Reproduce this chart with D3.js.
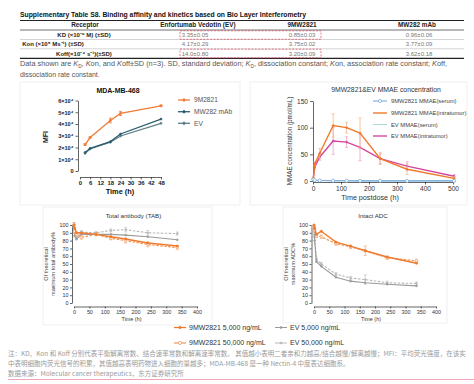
<!DOCTYPE html>
<html>
<head>
<meta charset="utf-8">
<script src="https://cdn.jsdelivr.net/npm/d3@7"></script>
<style>
  body { margin: 0; background: #fff; }
  svg { display: block; font-family: "Liberation Sans", Arial, sans-serif; }
</style>
</head>
<body>
<svg id="chart" width="474" height="384"></svg>
<script>
// ---------------------------------------------------------------------------
// Data
// ---------------------------------------------------------------------------
const tableTitle = "Supplementary Table S8. Binding affinity and kinetics based on Bio Layer Interferometry";
const tableHeader = ["Receptor", "Enfortumab Vedotin (EV)", "9MW2821", "MW282 mAb"];
const rowLabels = ["KD (×10⁻⁹ M) (±SD)", "Kon (×10⁵ Ms⁻¹) (±SD)", "Koff(×10⁻⁴ s⁻¹)(±SD)"];
const colEV = ["3.35±0.05", "4.17±0.29", "14.0±0.80"];
const col9MW = ["0.85±0.03", "3.75±0.02", "3.20±0.09"];
const colMW282 = ["0.96±0.06", "3.77±0.09", "3.62±0.18"];

// MDA-MB-468 binding (MFI)
const mfiTime = [3, 6, 18, 24, 48];
const mfiTicksX = [0, 6, 12, 18, 24, 30, 36, 42, 48];
const mfi9M2821 = [22500, 28500, 43000, 49000, 55500];
const mfi9M2821Err = [700, 600, 2000, 1800, 600];
const mfiMW282 = [15800, 19300, 25000, 31500, 44200];
const mfiEV = [15000, 18800, 24500, 29800, 40600];

// MMAE concentration
const mmaeTime = [1, 6, 24, 72, 120, 168, 240, 336, 504];
const mmae9MWSerum = [3, 1.5, 1, 0.5, 0.4, 0.3, 0.3, 0.2, 0.2];
const mmae9MWTumor = [5, 32, 52, 104, 100, 90, 42, 22, 5];
const mmae9MWTumorErr = [1, 4, 9, 22, 10, 28, 11, 10, 3];
const mmaeEVSerum = [2.5, 1.2, 0.8, 0.4, 0.3, 0.3, 0.2, 0.2, 0.2];
const mmaeEVTumor = [4, 26, 45, 75, 73, 63, 42, 28, 9];
const mmaeEVTumorErr = [1, 4, 6, 25, 10, 25, 9, 8, 3];

// Plasma stability (TAB / intact ADC), % of theoretical maximum
const pkTime = [0, 2, 8, 24, 72, 120, 168, 240, 336];
const tab9MW5k = [100, 96, 90, 90, 88, 85, 82, 77, 73];
const tab9MW50k = [100, 92, 88, 84, 88, 83, 80, 75, 71];
const tabEV5k = [100, 86, 82, 88, 88, 88, 87, 85, 81];
const tabEV50k = [100, 90, 84, 91, 90, 93, 94, 90, 89];
const tabErr = [3, 3, 3, 2, 2, 2, 3, 3, 2];
const adc9MW5k = [100, 96, 88, 92, 78, 73, 67, 59, 51];
const adc9MW50k = [97, 93, 86, 85, 76, 72, 67, 58, 54];
const adcEV5k = [97, 80, 53, 47, 33, 28, 26, 24, 22];
const adcEV50k = [98, 86, 56, 50, 37, 32, 30, 26, 25];
const adcErr = [2, 2, 2, 2, 2, 2, 6, 2, 2];

const noteLines = [
  "注：KD、Kon 和 Koff 分别代表平衡解离常数、结合速率常数和解离速率常数。 其值越小表明二者亲和力越高/结合越慢/解离越慢；MFI：平均荧光强度，在该实",
  "中表明细胞内荧光信号的积累，其值越高表明药物进入细胞的量越多；MDA-MB-468 是一种 Nectin-4 中度表达细胞系。",
  "数据来源：Molecular cancer therapeutics，东方证券研究所"
];

// ---------------------------------------------------------------------------
// Helpers
// ---------------------------------------------------------------------------
const svg = d3.select("#chart");
svg.append("rect").attr("width", 474).attr("height", 384).attr("fill", "#fff");

function styleAxis(g, size, weight, color) {
  g.selectAll("path, line").attr("stroke", "#222").attr("stroke-width", 0.7);
  g.selectAll("text")
    .attr("font-size", size)
    .attr("font-weight", weight || "normal")
    .attr("fill", color || "#222")
    .attr("font-family", "Liberation Sans, Arial, sans-serif");
}

function drawSeries(g, x, y, xs, ys, o) {
  const line = d3.line().x((d, i) => x(xs[i])).y(d => y(d));
  if (o.err) {
    const eb = g.append("g").attr("stroke", o.errColor || o.color).attr("stroke-width", 0.8);
    ys.forEach((v, i) => {
      const e = o.err[i];
      if (!e) return;
      const cx = x(xs[i]);
      eb.append("line").attr("x1", cx).attr("x2", cx).attr("y1", y(v - e)).attr("y2", y(v + e));
      eb.append("line").attr("x1", cx - 1.5).attr("x2", cx + 1.5).attr("y1", y(v + e)).attr("y2", y(v + e));
      eb.append("line").attr("x1", cx - 1.5).attr("x2", cx + 1.5).attr("y1", y(v - e)).attr("y2", y(v - e));
    });
  }
  g.append("path").datum(ys)
    .attr("d", line)
    .attr("fill", "none")
    .attr("stroke", o.color)
    .attr("stroke-width", o.width || 1)
    .attr("stroke-dasharray", o.dash || null);
  if (o.marker) {
    g.selectAll(null).data(ys).join("circle")
      .attr("cx", (d, i) => x(xs[i]))
      .attr("cy", d => y(d))
      .attr("r", o.r || 1.2)
      .attr("fill", o.marker === "open" ? "#fff" : o.color)
      .attr("stroke", o.color)
      .attr("stroke-width", 0.7);
  }
}

function legendItem(g, x, y, label, o) {
  g.append("line").attr("x1", x).attr("x2", x + o.len).attr("y1", y).attr("y2", y)
    .attr("stroke", o.color).attr("stroke-width", o.width || 1);
  if (o.marker) {
    g.append("circle").attr("cx", x + o.len / 2).attr("cy", y).attr("r", o.r || 1.3)
      .attr("fill", o.marker === "open" ? "#fff" : o.color)
      .attr("stroke", o.color).attr("stroke-width", 0.7);
  }
  g.append("text").attr("x", x + o.len + o.gap).attr("y", y + o.size * 0.35)
    .attr("font-size", o.size).attr("fill", o.textColor || "#333").text(label);
}

// ---------------------------------------------------------------------------
// Table
// ---------------------------------------------------------------------------
const tbl = svg.append("g");
tbl.append("text").attr("x", 20).attr("y", 17)
  .attr("font-size", 7.4).attr("font-weight", "bold").attr("fill", "#111")
  .attr("textLength", 286).attr("lengthAdjust", "spacingAndGlyphs")
  .text(tableTitle);

tbl.append("line").attr("x1", 20).attr("x2", 464).attr("y1", 20.5).attr("y2", 20.5)
  .attr("stroke", "#222").attr("stroke-width", 1.2);
tbl.append("line").attr("x1", 20).attr("x2", 464).attr("y1", 30).attr("y2", 30)
  .attr("stroke", "#333").attr("stroke-width", 0.7);
[39.5, 48.8].forEach(yy => tbl.append("line").attr("x1", 20).attr("x2", 464)
  .attr("y1", yy).attr("y2", yy).attr("stroke", "#aaa").attr("stroke-width", 0.5));
tbl.append("line").attr("x1", 20).attr("x2", 464).attr("y1", 58.3).attr("y2", 58.3)
  .attr("stroke", "#222").attr("stroke-width", 1.2);

const colX = [85, 198, 302, 417];
tableHeader.forEach((h, i) => {
  tbl.append("text").attr("x", colX[i]).attr("y", 27.3).attr("text-anchor", "middle")
    .attr("font-size", 6.4).attr("font-weight", "bold").attr("fill", "#222").text(h);
});
const rowY = [37, 46.3, 55.5];
const rowLabelX = [84, 53, 84];
rowLabels.forEach((t, i) => {
  tbl.append("text").attr("x", rowLabelX[i]).attr("y", rowY[i]).attr("text-anchor", "middle")
    .attr("font-size", 6).attr("font-weight", "bold").attr("fill", "#222").text(t);
});
[colEV, col9MW, colMW282].forEach((col, c) => {
  col.forEach((v, i) => {
    tbl.append("text").attr("x", [195, 302, 419][c]).attr("y", rowY[i]).attr("text-anchor", "middle")
      .attr("font-size", 6).attr("fill", "#777").text(v);
  });
});
// red dashed highlight boxes
[[30.8, 39.3], [49.2, 57.8]].forEach(([y0, y1]) => {
  tbl.append("rect").attr("x", 180).attr("y", y0).attr("width", 141).attr("height", y1 - y0)
    .attr("fill", "none").attr("stroke", "#e0405a").attr("stroke-width", 0.7)
    .attr("stroke-dasharray", "2,1.4");
});

const note = tbl.append("text").attr("x", 20).attr("y", 66).attr("font-size", 6.9).attr("fill", "#555")
  .attr("textLength", 427).attr("lengthAdjust", "spacingAndGlyphs");
note.append("tspan").text("Data shown are ");
note.append("tspan").attr("font-style", "italic").text("K");
note.append("tspan").attr("font-size", 4.5).attr("dy", 1.5).text("D");
note.append("tspan").attr("dy", -1.5).text(", ");
note.append("tspan").attr("font-style", "italic").text("K");
note.append("tspan").text("on, and ");
note.append("tspan").attr("font-style", "italic").text("K");
note.append("tspan").text("off±SD (n=3). SD, standard deviation; ");
note.append("tspan").attr("font-style", "italic").text("K");
note.append("tspan").attr("font-size", 4.5).attr("dy", 1.5).text("D");
note.append("tspan").attr("dy", -1.5).text(", dissociation constant; ");
note.append("tspan").attr("font-style", "italic").text("K");
note.append("tspan").text("on, association rate constant; ");
note.append("tspan").attr("font-style", "italic").text("K");
note.append("tspan").text("off,");
tbl.append("text").attr("x", 20).attr("y", 76.5).attr("font-size", 6.9).attr("fill", "#555")
  .text("dissociation rate constant.");

// panel frames
const frames = [[20, 82, 220, 123], [250, 82, 217, 123], [43, 207, 169, 118], [283, 207, 164, 116]];
frames.forEach(([fx, fy, fw, fh]) => svg.append("rect").attr("x", fx).attr("y", fy)
  .attr("width", fw).attr("height", fh).attr("fill", "none").attr("stroke", "#ececec").attr("stroke-width", 0.8));

// ---------------------------------------------------------------------------
// Panel 1: MDA-MB-468 MFI
// ---------------------------------------------------------------------------
{
  const g = svg.append("g");
  const x = d3.scaleLinear().domain([0, 48]).range([80, 161]);
  const y = d3.scaleLinear().domain([0, 60000]).range([171, 100.5]);
  const sup = d => d === 0 ? "0" : `${d / 1e4}×10⁴`;
  g.append("g").attr("transform", "translate(78,0)")
    .call(d3.axisLeft(y).tickValues(d3.range(0, 60001, 10000)).tickFormat(sup).tickSize(2.5).tickSizeOuter(0).tickPadding(2))
    .call(a => styleAxis(a, 5.6, "bold"));
  g.append("g").attr("transform", "translate(0,177)")
    .call(d3.axisBottom(x).tickValues(mfiTicksX).tickSize(2.5).tickSizeOuter(0).tickPadding(1.5))
    .call(a => styleAxis(a, 6, "bold"));
  g.append("text").attr("x", 118).attr("y", 92.5).attr("text-anchor", "middle")
    .attr("font-size", 7).attr("font-weight", "bold").attr("fill", "#111").text("MDA-MB-468");
  g.append("text").attr("x", 120).attr("y", 194).attr("text-anchor", "middle")
    .attr("font-size", 7.4).attr("font-weight", "bold").attr("fill", "#111").text("Time (h)");
  g.append("text").attr("transform", "translate(48,137) rotate(-90)").attr("text-anchor", "middle")
    .attr("font-size", 7).attr("font-weight", "bold").attr("fill", "#111").text("MFI");

  drawSeries(g, x, y, mfiTime, mfiEV, { color: "#5f7f8a", width: 1.3, marker: "fill", r: 1 });
  drawSeries(g, x, y, mfiTime, mfiMW282, { color: "#2c5f6d", width: 1.3, marker: "fill", r: 1 });
  drawSeries(g, x, y, mfiTime, mfi9M2821, { color: "#f07c3a", width: 1.3, marker: "fill", r: 1.1, err: mfi9M2821Err });

  const lo = { len: 12, gap: 4, size: 6.6, marker: "fill", textColor: "#555", width: 1.3 };
  legendItem(g, 178, 100, "9M2821", { ...lo, color: "#f07c3a" });
  legendItem(g, 178, 111.7, "MW282 mAb", { ...lo, color: "#2c5f6d" });
  legendItem(g, 178, 123.3, "EV", { ...lo, color: "#5f7f8a" });
}

// ---------------------------------------------------------------------------
// Panel 2: MMAE concentration
// ---------------------------------------------------------------------------
{
  const g = svg.append("g");
  const x = d3.scaleLinear().domain([0, 500]).range([313, 453]);
  const y = d3.scaleLinear().domain([0, 150]).range([181, 101]);
  g.append("g").attr("transform", "translate(313,0)")
    .call(d3.axisLeft(y).tickValues([0, 50, 100, 150]).tickSize(3).tickSizeOuter(0).tickPadding(2))
    .call(a => styleAxis(a, 6.6, "normal", "#333"));
  g.append("g").attr("transform", "translate(0,182)")
    .call(d3.axisBottom(x).tickValues([0, 100, 200, 300, 400, 500]).tickSize(2.5).tickSizeOuter(0).tickPadding(1.5))
    .call(a => styleAxis(a, 6.6, "normal", "#333"));
  g.append("text").attr("x", 386).attr("y", 92).attr("text-anchor", "middle")
    .attr("font-size", 6.8).attr("fill", "#333").text("9MW2821&EV MMAE concentration");
  g.append("text").attr("x", 370).attr("y", 200).attr("text-anchor", "middle")
    .attr("font-size", 7.2).attr("fill", "#333").text("Time postdose (h)");
  g.append("text").attr("transform", "translate(292,141) rotate(-90)").attr("text-anchor", "middle")
    .attr("font-size", 6.3).attr("fill", "#333").text("MMAE concentration (pmol/mL)");

  drawSeries(g, x, y, mmaeTime, mmaeEVTumor, { color: "#d4489c", width: 1.4, marker: "fill", r: 0.9, err: mmaeEVTumorErr, errColor: "#eea3cc" });
  drawSeries(g, x, y, mmaeTime, mmae9MWTumor, { color: "#f07a2a", width: 1.4, marker: "fill", r: 0.9, err: mmae9MWTumorErr, errColor: "#f6b98c" });
  drawSeries(g, x, y, mmaeTime, mmaeEVSerum, { color: "#a9ddd9", width: 1 });
  drawSeries(g, x, y, mmaeTime, mmae9MWSerum, { color: "#6fa3da", width: 1.1, marker: "open", r: 1.6 });

  const lg = g.append("g");
  lg.append("rect").attr("x", 370).attr("y", 95).attr("width", 96).attr("height", 46).attr("fill", "#fff");
  const lo = { len: 14, gap: 4, size: 5.8, textColor: "#444" };
  legendItem(lg, 373, 101, "9MW2821 MMAE(serum)", { ...lo, color: "#6fa3da", marker: "open", r: 1.6 });
  legendItem(lg, 373, 113, "9MW2821 MMAE(intratumor)", { ...lo, color: "#f07a2a", width: 1.4 });
  legendItem(lg, 373, 124.5, "EV MMAE(serum)", { ...lo, color: "#a9ddd9" });
  legendItem(lg, 373, 136, "EV MMAE(intratumor)", { ...lo, color: "#d4489c", width: 1.4 });
}

// ---------------------------------------------------------------------------
// Panels 3 & 4: TAB / intact ADC
// ---------------------------------------------------------------------------
const pkColors = { o5: "#ef7a2e", o50: "#f29555", g5: "#9b9b9b", g50: "#b8b8b8" };

function pkPanel(ox, xr, title, ytitle2, s5, s50, e5, e50, err) {
  const g = svg.append("g");
  const x = d3.scaleLinear().domain([0, 400]).range(xr);
  const y = d3.scaleLinear().domain([0, 100]).range([303, 225]);
  g.append("g").attr("transform", `translate(${ox},0)`)
    .call(d3.axisLeft(y).tickValues(d3.range(0, 101, 10)).tickSize(2).tickSizeOuter(0).tickPadding(1.5))
    .call(a => styleAxis(a, 5.4, "normal", "#333"));
  g.append("g").attr("transform", "translate(0,306.5)")
    .call(d3.axisBottom(x).tickValues(d3.range(0, 401, 50)).tickSize(2).tickSizeOuter(0).tickPadding(1.5))
    .call(a => styleAxis(a, 5.4, "normal", "#333"));
  const cx = (xr[0] + xr[1]) / 2;
  g.append("text").attr("x", cx - 2).attr("y", 217.5).attr("text-anchor", "middle")
    .attr("font-size", 6.2).attr("fill", "#333").text(title);
  g.append("text").attr("x", cx - 4).attr("y", 321).attr("text-anchor", "middle")
    .attr("font-size", 5.4).attr("fill", "#333").text("Time (h)");
  g.append("text").attr("transform", `translate(${ox - 24},264) rotate(-90)`).attr("text-anchor", "middle")
    .attr("font-size", 5.6).attr("fill", "#444").text("Of theoretical");
  g.append("text").attr("transform", `translate(${ox - 17},264) rotate(-90)`).attr("text-anchor", "middle")
    .attr("font-size", 5.6).attr("fill", "#444").text(ytitle2);

  drawSeries(g, x, y, pkTime, e50, { color: pkColors.g50, width: 1.1, dash: "2.5,1.5", marker: "fill", r: 0.9, err: err, errColor: "#ccc" });
  drawSeries(g, x, y, pkTime, e5, { color: pkColors.g5, width: 1.1, marker: "fill", r: 0.9 });
  drawSeries(g, x, y, pkTime, s50, { color: pkColors.o50, width: 1.2, dash: "2.5,1.5", marker: "open", r: 1.3, err: err, errColor: "#f5b184" });
  drawSeries(g, x, y, pkTime, s5, { color: pkColors.o5, width: 1.4, marker: "fill", r: 1.1 });
}
pkPanel(72, [74, 197], "Total antibody (TAB)", "maximum total antibody%", tab9MW5k, tab9MW50k, tabEV5k, tabEV50k, tabErr);
pkPanel(311.5, [314, 436], "Intact ADC", "maximum ADC%", adc9MW5k, adc9MW50k, adcEV5k, adcEV50k, adcErr);

// shared legend
{
  const g = svg.append("g");
  const lo = { len: 12, gap: 3, size: 7, textColor: "#333" };
  legendItem(g, 174, 327.5, "9MW2821 5,000 ng/mL", { ...lo, color: pkColors.o5, marker: "fill", r: 1.2, width: 1.3 });
  legendItem(g, 174, 343, "9MW2821 50,000 ng/mL", { ...lo, color: pkColors.o50, marker: "open", r: 1.6, width: 1.2 });
  legendItem(g, 275, 327.5, "EV 5,000 ng/mL", { ...lo, color: pkColors.g5, marker: "fill", r: 1 });
  legendItem(g, 275, 343, "EV 50,000 ng/mL", { ...lo, color: pkColors.g50, marker: "fill", r: 1 });
}

// ---------------------------------------------------------------------------
// Chinese footnotes
// ---------------------------------------------------------------------------
const notes = svg.append("g").attr("font-family", "Noto Sans CJK SC, sans-serif").attr("fill", "#9a9a9a");
[355.5, 365.5, 375.5].forEach((yy, i) => {
  notes.append("text").attr("x", 8).attr("y", yy).attr("font-size", 6.5).text(noteLines[i]);
});
svg.append("line").attr("x1", 8).attr("x2", 474).attr("y1", 379.5).attr("y2", 379.5)
  .attr("stroke", "#f2a3b6").attr("stroke-width", 1);
</script>
</body>
</html>
